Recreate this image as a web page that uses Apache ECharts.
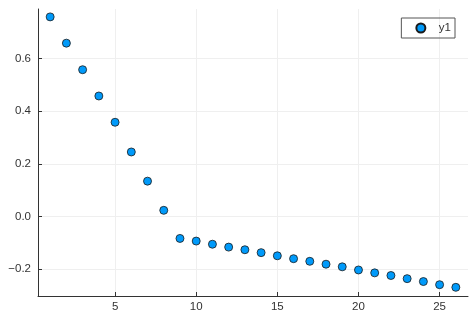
<!DOCTYPE html>
<html>
<head>
<meta charset="utf-8">
<script src="https://cdn.jsdelivr.net/npm/echarts@6/dist/echarts.min.js"></script>
<style>
html,body{margin:0;padding:0;background:#fff;}
#chart{width:474px;height:318px;}
</style>
</head>
<body>
<div id="chart"></div>
<script>
const xValues = [1,2,3,4,5,6,7,8,9,10,11,12,13,14,15,16,17,18,19,20,21,22,23,24,25,26];
const y1Values = [0.759,0.659,0.558,0.458,0.358,0.245,0.134,0.023,-0.084,-0.094,-0.106,-0.117,-0.127,-0.138,-0.150,-0.161,-0.171,-0.182,-0.192,-0.204,-0.215,-0.225,-0.237,-0.248,-0.260,-0.270];
const xTicks = [5,10,15,20,25];
const yTicks = [-0.2,0.0,0.2,0.4,0.6];
const seriesName = 'y1';

const chart = echarts.init(document.getElementById('chart'), null, {renderer:'canvas'});
const font = 'Liberation Sans';
const axisCommon = {
  axisLine:{show:true, onZero:false, lineStyle:{color:'#333', width:1}},
  axisTick:{show:true, inside:true, length:4, lineStyle:{color:'#333'}},
  splitLine:{show:true, lineStyle:{color:'#efefef', width:1}},
  axisLabel:{color:'#333', fontFamily:font, fontSize:11.5}
};
chart.setOption({
  animation:false,
  backgroundColor:'#fff',
  grid:{left:38, right:6, top:9, bottom:22, containLabel:false},
  legend:{
    right:19, top:18, orient:'horizontal',
    data:[{name:seriesName, icon:'circle'}],
    itemWidth:10, itemHeight:9, padding:[4,4,4,14],
    borderColor:'#555', borderWidth:1, borderRadius:0,
    textStyle:{color:'#333', fontFamily:font, fontSize:11.5, padding:[0,0,0,8]}
  },
  xAxis:{
    type:'value', min:0.25, max:26.75,
    ...axisCommon,
    axisTick:{...axisCommon.axisTick, customValues:xTicks},
    axisLabel:{...axisCommon.axisLabel, customValues:xTicks, margin:5, formatter:v=>String(v)},
    splitLine:axisCommon.splitLine
  },
  yAxis:{
    type:'value', min:-0.303, max:0.789,
    ...axisCommon,
    axisTick:{...axisCommon.axisTick, customValues:yTicks},
    axisLabel:{...axisCommon.axisLabel, customValues:yTicks, margin:7, formatter:v=>v.toFixed(1).replace('-','\u2212')},
    splitLine:axisCommon.splitLine
  },
  series:[{
    name:seriesName, type:'scatter', symbol:'circle', symbolSize:8,
    data:xValues.map((x,i)=>[x,y1Values[i]]),
    itemStyle:{color:'#009AFA', borderColor:'#1a1a1a', borderWidth:0.8, opacity:1}
  }]
});
</script>
</body>
</html>
